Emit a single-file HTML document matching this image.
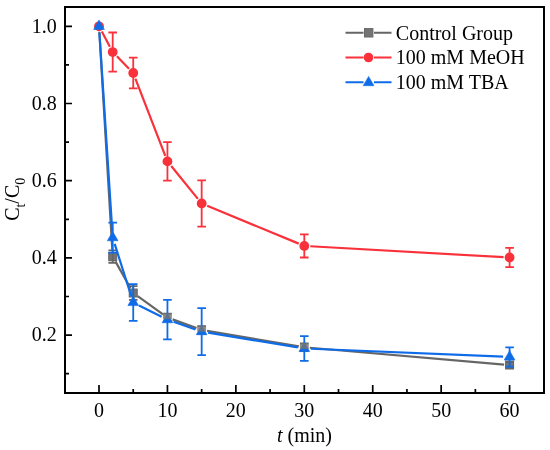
<!DOCTYPE html><html><head><meta charset="utf-8"><style>html,body{margin:0;padding:0;background:#fff;width:550px;height:450px;overflow:hidden}svg{display:block}text{font-family:"Liberation Serif","Times New Roman",serif;fill:#000}</style></head><body>
<svg width="550" height="450" viewBox="0 0 550 450">
<rect width="550" height="450" fill="#fff"/>
<g>
<path d="M99.34 31.79L112.37 251.06M115.4 261.34L130.53 288.23M137.7 296.23L162.97 314.3M172.61 319.39L196.49 328.12M207.08 330.92L298.88 346.35M309.78 347.73L504.11 364.54" fill="none" stroke="#666666" stroke-width="2.2"/>
<path d="M101.83 31.6L109.88 46.75M116.9 56.33L129.03 68.72M135.39 78.6L165.28 155.8M171.23 166.06L197.87 198.82M207.2 205.77L298.76 243.64M310.29 246.27L503.6 257.18" fill="none" stroke="#f9313a" stroke-width="2.2"/>
<circle cx="99.01" cy="26.3" r="4.9" fill="#f9313a"/>
<circle cx="112.7" cy="52.05" r="4.9" fill="#f9313a"/>
<circle cx="133.23" cy="73.01" r="4.9" fill="#f9313a"/>
<circle cx="167.44" cy="161.4" r="4.9" fill="#f9313a"/>
<circle cx="201.66" cy="203.47" r="4.9" fill="#f9313a"/>
<circle cx="304.3" cy="245.93" r="4.9" fill="#f9313a"/>
<circle cx="509.59" cy="257.51" r="4.9" fill="#f9313a"/>
<path d="M112.7 32.51V71.58M108.4 32.51H117M108.4 71.58H117M133.23 57.57V88.45M128.93 57.57H137.53M128.93 88.45H137.53M167.44 142.1V180.7M163.14 142.1H171.74M163.14 180.7H171.74M201.66 180.31V226.63M197.36 180.31H205.96M197.36 226.63H205.96M304.3 234.35V257.51M300 234.35H308.6M300 257.51H308.6M509.59 247.86V267.16M505.29 247.86H513.89M505.29 267.16H513.89" stroke="#f9313a" stroke-width="1.8" fill="none"/>
<rect x="108.7" y="252.55" width="8" height="8" fill="#747474" stroke="#666666" stroke-width="1"/>
<rect x="129.23" y="289.03" width="8" height="8" fill="#747474" stroke="#666666" stroke-width="1"/>
<rect x="505.59" y="361.01" width="8" height="8" fill="#747474" stroke="#666666" stroke-width="1"/>
<path d="M112.7 250.37V262.73M108.4 250.37H117M108.4 262.73H117M133.23 286.08V299.97M128.93 286.08H137.53M128.93 299.97H137.53M167.44 313.64V321.36M163.14 313.64H171.74M163.14 321.36H171.74M201.66 326.14V333.86M197.36 326.14H205.96M197.36 333.86H205.96M304.3 343.4V351.12M300 343.4H308.6M300 351.12H308.6M509.59 361.93V368.1M505.29 361.93H513.89M505.29 368.1H513.89" stroke="#666666" stroke-width="1.8" fill="none"/>
<polygon points="99.01,20.1 104.38,29.4 93.64,29.4" fill="#0f6ce8" stroke="#0f6ce8" stroke-width="0.6" stroke-linejoin="round"/>
<polygon points="112.7,231.44 118.07,240.74 107.33,240.74" fill="#0f6ce8" stroke="#0f6ce8" stroke-width="0.6" stroke-linejoin="round"/>
<polygon points="133.23,296.28 138.6,305.58 127.86,305.58" fill="#0f6ce8" stroke="#0f6ce8" stroke-width="0.6" stroke-linejoin="round"/>
<polygon points="167.44,313.46 172.81,322.76 162.07,322.76" fill="#0f6ce8" stroke="#0f6ce8" stroke-width="0.6" stroke-linejoin="round"/>
<polygon points="201.66,325.43 207.03,334.73 196.29,334.73" fill="#0f6ce8" stroke="#0f6ce8" stroke-width="0.6" stroke-linejoin="round"/>
<polygon points="304.3,342.29 309.67,351.59 298.93,351.59" fill="#0f6ce8" stroke="#0f6ce8" stroke-width="0.6" stroke-linejoin="round"/>
<polygon points="509.59,350.75 514.96,360.05 504.22,360.05" fill="#0f6ce8" stroke="#0f6ce8" stroke-width="0.6" stroke-linejoin="round"/>
<path d="M99.43 32.79L112.28 231.15M114.66 243.83L131.27 296.29M139.04 305.4L161.63 316.74M173.58 321.81L195.52 329.48M208.07 332.68L297.89 347.44M310.79 348.76L503.09 356.68" fill="none" stroke="#0f6ce8" stroke-width="2.2"/>
<path d="M112.7 222.58V252.69M108.4 222.58H117M108.4 252.69H117M133.23 284.15V320.82M128.93 284.15H137.53M128.93 320.82H137.53M167.44 299.97V339.35M163.14 299.97H171.74M163.14 339.35H171.74M201.66 308.08V355.17M197.36 308.08H205.96M197.36 355.17H205.96M304.3 336.14V360.85M300 336.14H308.6M300 360.85H308.6M509.59 347.3V366.6M505.29 347.3H513.89M505.29 366.6H513.89" stroke="#0f6ce8" stroke-width="1.8" fill="none"/>
<rect x="163.04" y="313.2" width="8.8" height="6" fill="#747474" opacity="0.82"/>
<rect x="197.26" y="325.7" width="8.8" height="6" fill="#747474" opacity="0.82"/>
<rect x="299.9" y="342.96" width="8.8" height="6" fill="#747474" opacity="0.82"/>
</g>
<rect x="65" y="7" width="479" height="386" fill="none" stroke="#000" stroke-width="2"/>
<path d="M99.01 393V385M167.44 393V385M235.87 393V385M304.3 393V385M372.73 393V385M441.16 393V385M509.59 393V385M133.23 393V389M201.66 393V389M270.09 393V389M338.51 393V389M406.94 393V389M475.37 393V389M65 335.1H72M65 257.9H72M65 180.7H72M65 103.5H72M65 26.3H72M65 373.7H69M65 296.5H69M65 219.3H69M65 142.1H69M65 64.9H69" stroke="#000" stroke-width="1.7" fill="none"/>
<text x="99.01" y="417" font-size="20" text-anchor="middle">0</text>
<text x="167.44" y="417" font-size="20" text-anchor="middle">10</text>
<text x="235.87" y="417" font-size="20" text-anchor="middle">20</text>
<text x="304.3" y="417" font-size="20" text-anchor="middle">30</text>
<text x="372.73" y="417" font-size="20" text-anchor="middle">40</text>
<text x="441.16" y="417" font-size="20" text-anchor="middle">50</text>
<text x="509.59" y="417" font-size="20" text-anchor="middle">60</text>
<text x="56.7" y="341.4" font-size="20" text-anchor="end">0.2</text>
<text x="56.7" y="264.2" font-size="20" text-anchor="end">0.4</text>
<text x="56.7" y="187" font-size="20" text-anchor="end">0.6</text>
<text x="56.7" y="109.8" font-size="20" text-anchor="end">0.8</text>
<text x="56.7" y="32.6" font-size="20" text-anchor="end">1.0</text>
<text x="304.5" y="442" font-size="20" text-anchor="middle"><tspan font-style="italic">t</tspan> (min)</text>
<text transform="translate(18.5,199.3) rotate(-90)" font-size="20" text-anchor="middle">C<tspan font-size="14" dy="6.5">t</tspan><tspan dy="-6.5">/C</tspan><tspan font-size="14" dy="6.5">0</tspan></text>
<path d="M345.5 32.8H363.5M374 32.8H391.5" stroke="#666666" stroke-width="2"/>
<rect x="364.5" y="28.6" width="8.4" height="8.4" fill="#747474" stroke="#666666" stroke-width="1"/>
<text x="395.8" y="39.5" font-size="20">Control Group</text>
<path d="M345.5 57.5H363.5M374 57.5H391.5" stroke="#f9313a" stroke-width="2"/>
<circle cx="368.5" cy="57.5" r="4.8" fill="#f9313a"/>
<text x="395.8" y="64.2" font-size="20">100 mM MeOH</text>
<path d="M345.5 82.2H363.5M374 82.2H391.5" stroke="#0f6ce8" stroke-width="2"/>
<polygon points="368.6,76.4 373.97,85.7 363.23,85.7" fill="#0f6ce8" stroke="#0f6ce8" stroke-width="0.6" stroke-linejoin="round"/>
<text x="395.8" y="88.9" font-size="20">100 mM TBA</text>
</svg></body></html>
